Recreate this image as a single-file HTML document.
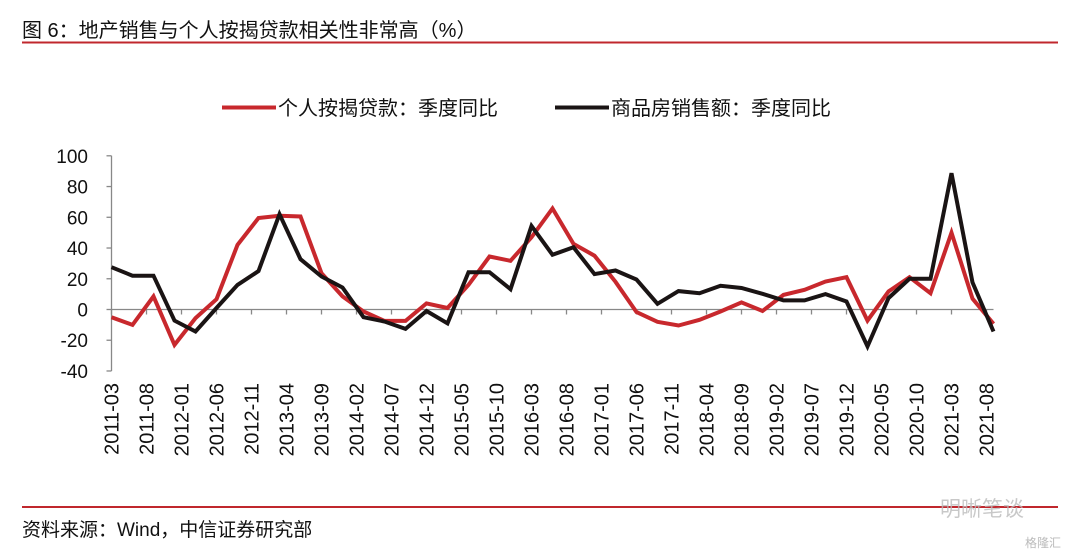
<!DOCTYPE html>
<html><head><meta charset="utf-8"><style>
html,body{margin:0;padding:0;background:#fff;}
svg{display:block;font-family:"Liberation Sans","Noto Sans CJK SC",sans-serif;}
</style></head><body>
<svg id="c" width="1080" height="552" viewBox="0 0 1080 552">
<text x="22" y="37" font-size="20" fill="#111">图 6：地产销售与个人按揭贷款相关性非常高（%）</text>
<rect x="22" y="41.5" width="1036" height="2" fill="#c0272d"/>
<g>
<g>
<line x1="222" y1="107.5" x2="276" y2="107.5" stroke="#c8282d" stroke-width="4"/>
<text x="278" y="115" font-size="20" fill="#111">个人按揭贷款：季度同比</text></g>
<g>
<line x1="555" y1="107.5" x2="609" y2="107.5" stroke="#1a1414" stroke-width="4"/>
<text x="611" y="115" font-size="20" fill="#111">商品房销售额：季度同比</text></g>
</g>
<g id="axes"></g>
<g id="series"></g>
<rect x="22" y="506" width="1036" height="2" fill="#c0272d"/>
<text x="22" y="536" font-size="19" fill="#111">资料来源：Wind，中信证券研究部</text>
<text x="940" y="516" font-size="21" fill="#bbb" opacity="0.8">明晰笔谈</text>
<text x="1025" y="547" font-size="12" fill="#bbb">格隆汇</text>
</svg>
<script>
const yTicks=[100,80,60,40,20,0,-20,-40];
const xLabels=["2011-03","2011-08","2012-01","2012-06","2012-11","2013-04","2013-09","2014-02","2014-07","2014-12","2015-05","2015-10","2016-03","2016-08","2017-01","2017-06","2017-11","2018-04","2018-09","2019-02","2019-07","2019-12","2020-05","2020-10","2021-03","2021-08"];
const mortgage=[-5,-10,8.5,-23,-5.6,6.7,42,59.5,61,60.5,23.6,8.5,-1.3,-7.4,-7.4,4,1,16,34.5,31.7,47,65.7,42.7,35,18,-1.7,-8,-10.4,-6.7,-1.3,4.6,-1,9.5,12.8,18.2,21,-7.2,11.7,21,10.6,50,7,-9.3];
const sales=[27.5,22,22,-7.2,-14.3,1,16,25,62,32.7,21.5,14.3,-5,-7.8,-12.6,-1,-9,24.3,24.3,13.2,54.4,35.6,40.5,23,25.4,19.5,3.7,12,10.6,15.4,14,10.2,5.9,5.9,10,5.2,-24,7.4,20,20,88.7,17.6,-14.3];
const NS="http://www.w3.org/2000/svg";
const x0=111.5,pxMonth=7.0;
const yS=v=>309.5-v*1.537;
const xM=m=>x0+m*pxMonth;
const axes=document.getElementById('axes'),ser=document.getElementById('series');
function mk(t,a,p){const e=document.createElementNS(NS,t);for(const k in a)e.setAttribute(k,a[k]);p.appendChild(e);return e;}
const yAxis=mk('line',{x1:x0,y1:yS(100),x2:x0,y2:yS(-40),stroke:'#888','stroke-width':1.3},axes);


yTicks.forEach(v=>{
 mk('line',{x1:x0-5,y1:yS(v),x2:x0,y2:yS(v),stroke:'#888','stroke-width':1.3},axes);
 const t=mk('text',{x:88,y:yS(v)+7,'text-anchor':'end','font-size':19,fill:'#111'},axes);
 t.textContent=v;
 
 
});
const xEnd=xM((mortgage.length-1)*3);
const xAxis=mk('line',{x1:x0,y1:yS(0),x2:xEnd,y2:yS(0),stroke:'#888','stroke-width':1.3},axes);


xLabels.forEach((l,i)=>{
 const x=xM(i*5);
 mk('line',{x1:x,y1:yS(0),x2:x,y2:yS(0)+5,stroke:'#888','stroke-width':1.3},axes);
 const t=mk('text',{x:0,y:0,'text-anchor':'end','font-size':20,fill:'#111',transform:`translate(${x+7},${383}) rotate(-90)`},axes);
 t.textContent=l;
 
 
});
function line(d,c,n){
 const pts=d.map((v,i)=>xM(i*3).toFixed(1)+','+yS(v).toFixed(1)).join(' ');
 const p=mk('polyline',{points:pts,fill:'none',stroke:c,'stroke-width':4,'stroke-linejoin':'miter'},ser);
 
 
}
line(mortgage,'#c8282d','mortgage-line');
line(sales,'#1a1414','sales-line');
</script>
</body></html>
